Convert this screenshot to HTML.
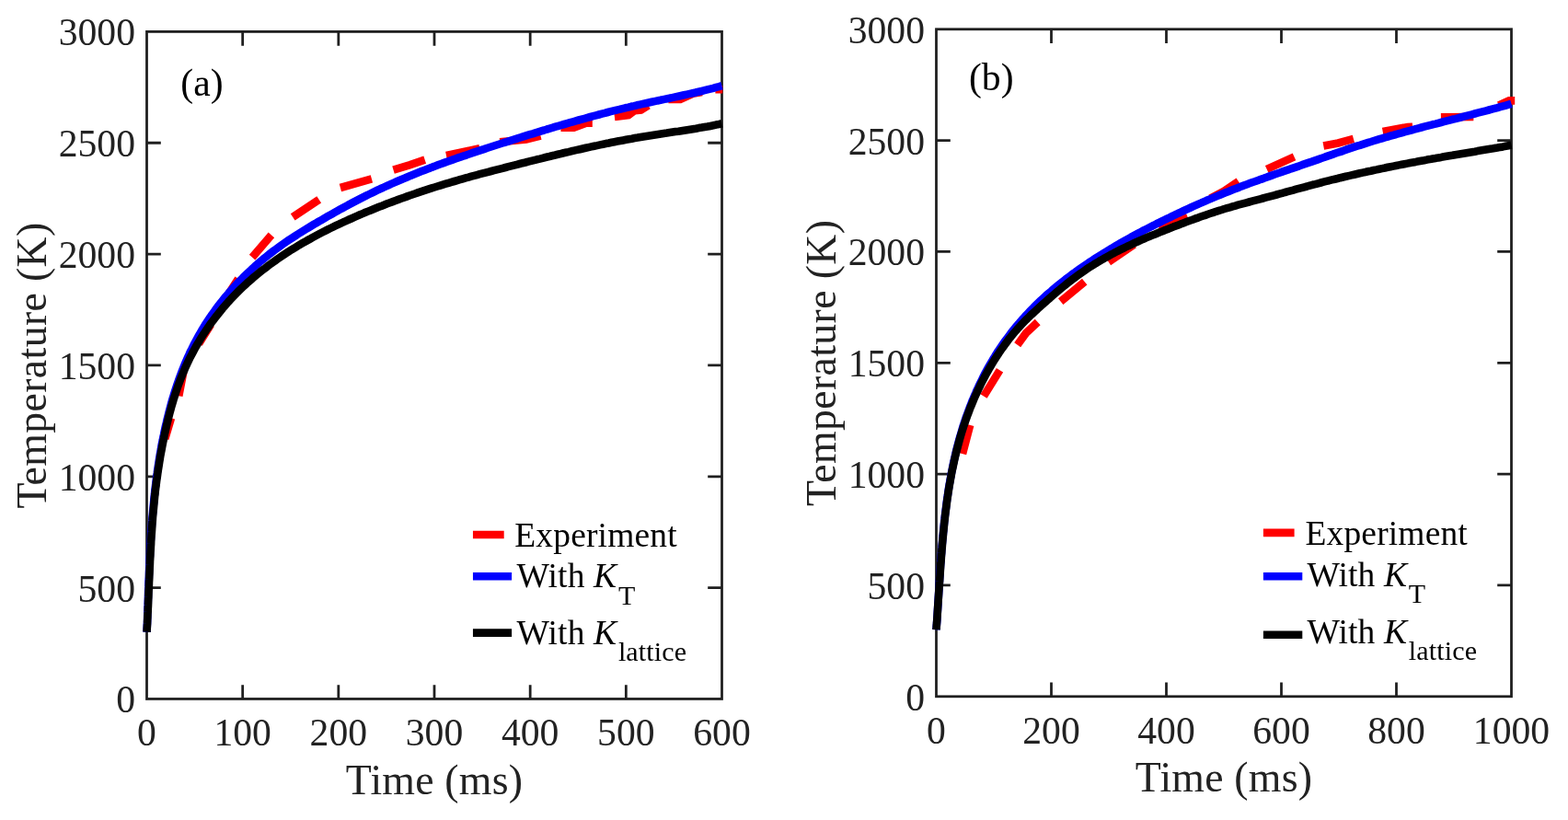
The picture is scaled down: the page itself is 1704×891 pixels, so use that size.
<!DOCTYPE html>
<html lang="en">
<head>
<meta charset="utf-8">
<title>Temperature vs time</title>
<style>
html,body{margin:0;padding:0;background:#fff;}
body{width:1704px;height:891px;overflow:hidden;}
svg{display:block;font-family:'Liberation Serif', serif;}
</style>
</head>
<body>
<svg width="1704" height="891" viewBox="0 0 1704 891">
<rect width="1704" height="891" fill="#ffffff"/>
<g id="panel-a">
<rect x="159.5" y="34.4" width="625.0" height="725.0500000000001" fill="none" stroke="#1f1f1f" stroke-width="2.78"/>
<path d="M263.67,759.45 v-15.3 M263.67,34.4 v15.3 M367.83,759.45 v-15.3 M367.83,34.4 v15.3 M472.00,759.45 v-15.3 M472.00,34.4 v15.3 M576.17,759.45 v-15.3 M576.17,34.4 v15.3 M680.33,759.45 v-15.3 M680.33,34.4 v15.3 M159.5,638.61 h15.3 M784.5,638.61 h-15.3 M159.5,517.77 h15.3 M784.5,517.77 h-15.3 M159.5,396.93 h15.3 M784.5,396.93 h-15.3 M159.5,276.08 h15.3 M784.5,276.08 h-15.3 M159.5,155.24 h15.3 M784.5,155.24 h-15.3" fill="none" stroke="#1f1f1f" stroke-width="2.78"/>
<g font-size="41.67" fill="#222222">
<text x="159.50" y="810.45" text-anchor="middle">0</text>
<text x="263.67" y="810.45" text-anchor="middle">100</text>
<text x="367.83" y="810.45" text-anchor="middle">200</text>
<text x="472.00" y="810.45" text-anchor="middle">300</text>
<text x="576.17" y="810.45" text-anchor="middle">400</text>
<text x="680.33" y="810.45" text-anchor="middle">500</text>
<text x="784.50" y="810.45" text-anchor="middle">600</text>
<text x="147.00" y="774.45" text-anchor="end">0</text>
<text x="147.00" y="653.61" text-anchor="end">500</text>
<text x="147.00" y="532.77" text-anchor="end">1000</text>
<text x="147.00" y="411.93" text-anchor="end">1500</text>
<text x="147.00" y="291.08" text-anchor="end">2000</text>
<text x="147.00" y="170.24" text-anchor="end">2500</text>
<text x="147.00" y="49.40" text-anchor="end">3000</text>
</g>
<text x="472.00" y="862.95" font-size="45.83" letter-spacing="0.2" text-anchor="middle" fill="#222222">Time (ms)</text>
<text transform="translate(50.00,396.93) rotate(-90)" font-size="45.83" letter-spacing="0.35" text-anchor="middle" fill="#222222">Temperature (K)</text>
<text x="196.3" y="103.8" font-size="41.67" fill="#000">(a)</text>
<path d="M179.3,476.7 L186.0,454.2 M194.3,430.2 L199.4,403.9 M216.1,373.6 L229.2,352.4 M240.8,331.4 L259.0,302.7 M274.1,279.6 L294.9,255.4 M318.2,235.9 L346.7,216.9 M369.9,204.0 L403.9,194.4 M427.5,184.6 L444.9,179.3 L461.7,173.7 M485.0,169.0 L521.3,161.3 M543.2,154.3 L571.8,151.5 L587.5,147.6 M609.5,138.6 L623.6,138.6 L637.0,133.6 L643.8,133.6 M667.9,127.0 L683.0,125.1 L689.8,120.1 L696.5,119.5 L704.5,114.5 M726.4,108.0 L739.3,108.0 L753.9,101.4 L762.9,99.9 M777.4,97.3 L785.3,97.3" fill="none" stroke="#ff0000" stroke-width="8.6"/>
<path d="M159.5,686.8 L159.7,683.6 L159.8,680.3 L160.0,677.0 L160.1,673.8 L160.2,670.5 L160.3,667.2 L160.4,664.0 L160.5,660.7 L160.7,657.4 L160.8,654.2 L160.9,650.9 L161.0,647.6 L161.1,644.4 L161.2,641.1 L161.4,637.9 L161.5,634.6 L161.6,631.3 L161.8,628.1 L161.9,624.8 L162.0,621.5 L162.2,618.3 L162.3,615.0 L162.5,611.7 L162.6,608.5 L162.8,605.2 L163.0,602.0 L163.1,598.7 L163.3,595.4 L163.5,592.2 L163.7,588.9 L163.9,585.7 L164.1,582.4 L164.3,579.1 L164.5,575.9 L164.8,572.6 L165.0,569.4 L165.3,566.1 L165.5,562.8 L165.8,559.6 L166.1,556.3 L166.4,553.1 L166.7,549.8 L167.0,546.6 L167.3,543.3 L167.6,540.1 L168.0,536.8 L168.3,533.6 L168.7,530.3 L169.1,527.1 L169.5,523.9 L169.9,520.6 L170.3,517.4 L170.8,514.1 L171.2,510.9 L171.7,507.7 L172.2,504.4 L172.7,501.2 L173.2,498.0 L173.7,494.8 L174.3,491.5 L174.9,488.3 L175.4,485.1 L176.0,481.9 L176.7,478.7 L177.3,475.5 L178.0,472.3 L178.6,469.1 L179.3,465.9 L180.0,462.7 L180.8,459.5 L181.5,456.4 L182.3,453.2 L183.1,450.0 L183.9,446.8 L184.7,443.7 L185.6,440.5 L186.4,437.4 L187.3,434.3 L188.3,431.1 L189.2,428.0 L190.2,424.9 L191.2,421.8 L192.2,418.7 L193.3,415.6 L194.4,412.5 L195.5,409.4 L196.6,406.4 L197.8,403.3 L199.0,400.3 L200.2,397.3 L201.5,394.2 L202.8,391.2 L204.1,388.3 L205.5,385.3 L206.8,382.3 L208.3,379.4 L209.7,376.5 L211.2,373.5 L212.7,370.7 L214.3,367.8 L215.9,364.9 L217.5,362.1 L219.1,359.3 L220.8,356.5 L222.5,353.7 L224.3,350.9 L226.1,348.2 L227.9,345.5 L229.7,342.8 L231.6,340.1 L233.5,337.5 L235.4,334.8 L237.4,332.2 L239.4,329.6 L241.4,327.1 L243.5,324.5 L245.5,322.0 L247.7,319.5 L249.8,317.0 L251.9,314.6 L254.1,312.1 L256.3,309.7 L258.6,307.3 L260.8,305.0 L263.1,302.7 L265.4,300.3 L267.7,298.1 L270.1,295.8 L272.5,293.6 L274.9,291.3 L277.3,289.1 L279.8,287.0 L282.2,284.8 L284.7,282.7 L287.2,280.6 L289.8,278.6 L292.3,276.5 L294.9,274.5 L297.5,272.5 L300.1,270.6 L302.7,268.7 L305.4,266.8 L308.0,264.9 L310.7,263.0 L313.4,261.2 L316.2,259.4 L318.9,257.6 L321.6,255.8 L324.4,254.0 L327.1,252.3 L329.9,250.6 L332.7,248.9 L335.5,247.2 L338.3,245.5 L341.1,243.8 L343.9,242.2 L346.7,240.5 L349.6,238.9 L352.4,237.3 L355.2,235.6 L358.1,234.0 L360.9,232.4 L363.8,230.8 L366.6,229.2 L369.5,227.6 L372.3,226.1 L375.2,224.5 L378.1,222.9 L381.0,221.4 L383.8,219.9 L386.7,218.4 L389.6,216.9 L392.5,215.4 L395.5,213.9 L398.4,212.4 L401.3,211.0 L404.2,209.6 L407.2,208.1 L410.1,206.7 L413.1,205.3 L416.1,204.0 L419.0,202.6 L422.0,201.3 L425.0,199.9 L428.0,198.6 L431.0,197.3 L434.0,196.0 L437.0,194.7 L440.0,193.5 L443.0,192.2 L446.0,190.9 L449.0,189.7 L452.1,188.5 L455.1,187.3 L458.1,186.1 L461.2,184.9 L464.2,183.7 L467.3,182.6 L470.3,181.4 L473.4,180.3 L476.5,179.1 L479.5,178.0 L482.6,176.9 L485.7,175.8 L488.7,174.7 L491.8,173.6 L494.9,172.5 L498.0,171.4 L501.1,170.4 L504.2,169.3 L507.3,168.3 L510.4,167.2 L513.4,166.2 L516.5,165.1 L519.6,164.1 L522.7,163.1 L525.9,162.1 L529.0,161.0 L532.1,160.0 L535.2,159.0 L538.3,158.0 L541.4,157.0 L544.5,156.0 L547.6,155.0 L550.7,154.1 L553.8,153.1 L557.0,152.1 L560.1,151.1 L563.2,150.1 L566.3,149.2 L569.4,148.2 L572.5,147.2 L575.7,146.2 L578.8,145.3 L581.9,144.3 L585.0,143.4 L588.2,142.4 L591.3,141.5 L594.4,140.5 L597.5,139.6 L600.7,138.7 L603.8,137.7 L606.9,136.8 L610.1,135.9 L613.2,135.0 L616.3,134.1 L619.5,133.2 L622.6,132.3 L625.8,131.4 L628.9,130.5 L632.1,129.6 L635.2,128.8 L638.4,127.9 L641.5,127.0 L644.7,126.2 L647.8,125.4 L651.0,124.5 L654.1,123.7 L657.3,122.9 L660.5,122.0 L663.6,121.2 L666.8,120.4 L670.0,119.6 L673.1,118.9 L676.3,118.1 L679.5,117.3 L682.7,116.6 L685.8,115.8 L689.0,115.1 L692.2,114.3 L695.4,113.6 L698.6,112.9 L701.8,112.2 L705.0,111.5 L708.1,110.8 L711.3,110.1 L714.5,109.4 L717.7,108.8 L720.9,108.1 L724.1,107.4 L727.3,106.8 L730.5,106.1 L733.7,105.4 L736.9,104.7 L740.1,104.0 L743.3,103.3 L746.5,102.6 L749.7,101.9 L752.9,101.2 L756.0,100.5 L759.2,99.7 L762.4,99.0 L765.6,98.2 L768.7,97.4 L771.9,96.6 L775.1,95.8 L778.2,94.9 L781.4,94.1 L784.5,93.2" fill="none" stroke="#0000ff" stroke-width="8.6" stroke-linejoin="round"/>
<path d="M159.5,686.8 L159.7,683.6 L159.9,680.4 L160.1,677.2 L160.2,674.0 L160.4,670.8 L160.5,667.6 L160.7,664.4 L160.8,661.2 L161.0,658.0 L161.1,654.8 L161.2,651.6 L161.4,648.4 L161.5,645.2 L161.6,642.0 L161.8,638.8 L161.9,635.6 L162.0,632.4 L162.2,629.2 L162.3,626.0 L162.5,622.8 L162.6,619.6 L162.7,616.4 L162.9,613.2 L163.0,610.0 L163.2,606.8 L163.4,603.6 L163.5,600.5 L163.7,597.3 L163.9,594.1 L164.1,590.9 L164.2,587.7 L164.4,584.5 L164.6,581.3 L164.9,578.1 L165.1,574.9 L165.3,571.7 L165.5,568.5 L165.8,565.3 L166.0,562.1 L166.3,558.9 L166.6,555.7 L166.9,552.5 L167.2,549.4 L167.5,546.2 L167.8,543.0 L168.1,539.8 L168.5,536.6 L168.8,533.4 L169.2,530.3 L169.6,527.1 L170.0,523.9 L170.4,520.7 L170.9,517.6 L171.3,514.4 L171.8,511.2 L172.3,508.1 L172.8,504.9 L173.3,501.7 L173.8,498.6 L174.3,495.4 L174.9,492.3 L175.5,489.1 L176.1,486.0 L176.7,482.8 L177.3,479.7 L178.0,476.6 L178.6,473.4 L179.3,470.3 L180.0,467.2 L180.7,464.1 L181.4,460.9 L182.2,457.8 L182.9,454.7 L183.7,451.6 L184.5,448.5 L185.4,445.4 L186.2,442.3 L187.1,439.3 L188.0,436.2 L188.9,433.1 L189.9,430.1 L190.9,427.0 L191.9,424.0 L192.9,421.0 L194.0,417.9 L195.1,414.9 L196.2,411.9 L197.4,409.0 L198.6,406.0 L199.9,403.1 L201.1,400.1 L202.5,397.2 L203.8,394.3 L205.2,391.4 L206.6,388.5 L208.1,385.7 L209.6,382.9 L211.1,380.0 L212.6,377.2 L214.2,374.5 L215.9,371.7 L217.5,369.0 L219.2,366.2 L220.9,363.5 L222.7,360.9 L224.4,358.2 L226.3,355.6 L228.1,352.9 L230.0,350.3 L231.9,347.8 L233.8,345.2 L235.8,342.7 L237.8,340.2 L239.8,337.7 L241.8,335.2 L243.9,332.8 L246.0,330.4 L248.1,328.0 L250.3,325.6 L252.5,323.3 L254.7,321.0 L256.9,318.7 L259.2,316.4 L261.5,314.2 L263.8,312.0 L266.1,309.8 L268.5,307.6 L270.9,305.5 L273.3,303.4 L275.7,301.3 L278.2,299.2 L280.6,297.2 L283.1,295.2 L285.7,293.2 L288.2,291.3 L290.7,289.3 L293.3,287.4 L295.9,285.5 L298.5,283.7 L301.1,281.8 L303.7,280.0 L306.4,278.2 L309.1,276.4 L311.7,274.7 L314.4,272.9 L317.1,271.2 L319.9,269.6 L322.6,267.9 L325.3,266.2 L328.1,264.6 L330.9,263.0 L333.7,261.4 L336.5,259.9 L339.3,258.3 L342.1,256.8 L344.9,255.3 L347.7,253.8 L350.6,252.3 L353.4,250.9 L356.3,249.4 L359.1,248.0 L362.0,246.6 L364.9,245.2 L367.8,243.8 L370.7,242.5 L373.6,241.1 L376.5,239.8 L379.4,238.5 L382.4,237.2 L385.3,235.9 L388.2,234.6 L391.2,233.3 L394.1,232.1 L397.1,230.8 L400.0,229.6 L403.0,228.4 L405.9,227.2 L408.9,226.0 L411.9,224.8 L414.9,223.7 L417.9,222.5 L420.8,221.3 L423.8,220.2 L426.8,219.1 L429.8,218.0 L432.8,216.9 L435.8,215.8 L438.9,214.7 L441.9,213.6 L444.9,212.5 L447.9,211.5 L450.9,210.5 L454.0,209.4 L457.0,208.4 L460.0,207.4 L463.1,206.4 L466.1,205.4 L469.2,204.4 L472.2,203.5 L475.3,202.5 L478.3,201.6 L481.4,200.6 L484.5,199.7 L487.5,198.8 L490.6,197.9 L493.7,197.0 L496.8,196.1 L499.8,195.2 L502.9,194.3 L506.0,193.4 L509.1,192.6 L512.2,191.7 L515.3,190.9 L518.3,190.1 L521.4,189.2 L524.5,188.4 L527.6,187.6 L530.7,186.8 L533.8,186.0 L536.9,185.2 L540.0,184.4 L543.1,183.6 L546.2,182.8 L549.3,182.0 L552.4,181.2 L555.5,180.4 L558.6,179.6 L561.7,178.8 L564.8,178.0 L567.9,177.2 L571.0,176.5 L574.1,175.7 L577.2,174.9 L580.4,174.1 L583.5,173.3 L586.6,172.6 L589.7,171.8 L592.8,171.0 L595.9,170.3 L599.0,169.5 L602.1,168.8 L605.2,168.0 L608.3,167.3 L611.5,166.5 L614.6,165.8 L617.7,165.1 L620.8,164.3 L623.9,163.6 L627.0,162.9 L630.2,162.2 L633.3,161.5 L636.4,160.8 L639.5,160.1 L642.7,159.4 L645.8,158.7 L648.9,158.1 L652.1,157.4 L655.2,156.8 L658.3,156.1 L661.5,155.5 L664.6,154.8 L667.7,154.2 L670.9,153.6 L674.0,153.0 L677.2,152.4 L680.3,151.8 L683.5,151.2 L686.6,150.7 L689.8,150.1 L692.9,149.6 L696.1,149.0 L699.2,148.5 L702.4,148.0 L705.6,147.5 L708.7,147.0 L711.9,146.5 L715.1,146.0 L718.2,145.5 L721.4,145.0 L724.6,144.6 L727.7,144.1 L730.9,143.6 L734.1,143.1 L737.2,142.7 L740.4,142.2 L743.5,141.7 L746.7,141.2 L749.9,140.7 L753.0,140.2 L756.2,139.7 L759.3,139.1 L762.5,138.6 L765.7,138.0 L768.8,137.5 L772.0,136.9 L775.1,136.3 L778.2,135.6 L781.4,135.0 L784.5,134.3" fill="none" stroke="#000000" stroke-width="8.6" stroke-linejoin="round"/>
<path d="M513.96,580.95 H547.7" stroke="#ff0000" stroke-width="8.6"/>
<path d="M513.96,626.2 H556.1" stroke="#0000ff" stroke-width="8.6"/>
<path d="M513.96,687.6 H556.1" stroke="#000000" stroke-width="8.6"/>
<g font-size="37.5" fill="#000" letter-spacing="0.15">
<text x="559.3" y="593.8">Experiment</text>
<text x="561.5" y="638.3">With <tspan font-style="italic">K</tspan><tspan font-size="30" dx="1.6" dy="18.2">T</tspan></text>
<text x="561.5" y="699.8">With <tspan font-style="italic">K</tspan><tspan font-size="30" dx="1.6" dy="18.2">lattice</tspan></text>
</g>
</g>
<g id="panel-b">
<rect x="1017.5" y="31.75" width="625.0" height="725.05" fill="none" stroke="#1f1f1f" stroke-width="2.78"/>
<path d="M1142.50,756.8 v-15.3 M1142.50,31.75 v15.3 M1267.50,756.8 v-15.3 M1267.50,31.75 v15.3 M1392.50,756.8 v-15.3 M1392.50,31.75 v15.3 M1517.50,756.8 v-15.3 M1517.50,31.75 v15.3 M1017.5,635.96 h15.3 M1642.5,635.96 h-15.3 M1017.5,515.12 h15.3 M1642.5,515.12 h-15.3 M1017.5,394.27 h15.3 M1642.5,394.27 h-15.3 M1017.5,273.43 h15.3 M1642.5,273.43 h-15.3 M1017.5,152.59 h15.3 M1642.5,152.59 h-15.3" fill="none" stroke="#1f1f1f" stroke-width="2.78"/>
<g font-size="41.67" fill="#222222">
<text x="1017.50" y="807.80" text-anchor="middle">0</text>
<text x="1142.50" y="807.80" text-anchor="middle">200</text>
<text x="1267.50" y="807.80" text-anchor="middle">400</text>
<text x="1392.50" y="807.80" text-anchor="middle">600</text>
<text x="1517.50" y="807.80" text-anchor="middle">800</text>
<text x="1642.50" y="807.80" text-anchor="middle">1000</text>
<text x="1005.00" y="771.80" text-anchor="end">0</text>
<text x="1005.00" y="650.96" text-anchor="end">500</text>
<text x="1005.00" y="530.12" text-anchor="end">1000</text>
<text x="1005.00" y="409.27" text-anchor="end">1500</text>
<text x="1005.00" y="288.43" text-anchor="end">2000</text>
<text x="1005.00" y="167.59" text-anchor="end">2500</text>
<text x="1005.00" y="46.75" text-anchor="end">3000</text>
</g>
<text x="1330.00" y="860.30" font-size="45.83" letter-spacing="0.2" text-anchor="middle" fill="#222222">Time (ms)</text>
<text transform="translate(908.00,394.27) rotate(-90)" font-size="45.83" letter-spacing="0.35" text-anchor="middle" fill="#222222">Temperature (K)</text>
<text x="1053" y="97.8" font-size="41.67" fill="#000">(b)</text>
<path d="M1046.0,493.1 L1054.2,461.8 M1069.0,430.5 L1086.5,402.3 M1105.7,374.7 L1115.0,361.9 L1127.7,350.0 M1152.7,327.6 L1178.7,306.1 M1204.7,284.6 L1232.5,265.7 M1259.3,247.5 L1290.1,234.5 M1315.4,215.6 L1330.0,207.8 L1345.9,197.1 M1376.7,183.9 L1406.5,170.3 M1438.3,158.5 L1454.2,155.5 L1470.9,150.9 M1502.7,143.1 L1530.0,138.0 L1535.0,137.8 M1565.9,127.3 L1601.3,127.0 M1628.8,114.5 L1640.0,109.4 L1646.2,109.4" fill="none" stroke="#ff0000" stroke-width="8.6"/>
<path d="M1017.5,684.3 L1017.7,681.1 L1018.0,677.9 L1018.2,674.8 L1018.4,671.6 L1018.6,668.5 L1018.8,665.3 L1019.0,662.2 L1019.2,659.0 L1019.4,655.9 L1019.6,652.7 L1019.8,649.6 L1020.0,646.4 L1020.2,643.2 L1020.4,640.1 L1020.6,636.9 L1020.8,633.8 L1021.0,630.6 L1021.2,627.5 L1021.4,624.3 L1021.6,621.2 L1021.8,618.0 L1022.0,614.8 L1022.3,611.7 L1022.5,608.5 L1022.7,605.4 L1023.0,602.2 L1023.2,599.1 L1023.5,595.9 L1023.7,592.8 L1024.0,589.6 L1024.3,586.5 L1024.6,583.3 L1024.9,580.2 L1025.2,577.0 L1025.5,573.9 L1025.8,570.8 L1026.1,567.6 L1026.5,564.5 L1026.8,561.3 L1027.2,558.2 L1027.6,555.0 L1028.0,551.9 L1028.4,548.8 L1028.8,545.6 L1029.2,542.5 L1029.7,539.4 L1030.2,536.3 L1030.6,533.1 L1031.1,530.0 L1031.6,526.9 L1032.2,523.8 L1032.7,520.7 L1033.3,517.5 L1033.9,514.4 L1034.5,511.3 L1035.1,508.2 L1035.7,505.1 L1036.4,502.0 L1037.1,499.0 L1037.8,495.9 L1038.5,492.8 L1039.2,489.7 L1040.0,486.7 L1040.8,483.6 L1041.6,480.5 L1042.4,477.5 L1043.3,474.4 L1044.2,471.4 L1045.1,468.4 L1046.0,465.3 L1046.9,462.3 L1047.9,459.3 L1048.9,456.3 L1049.9,453.3 L1051.0,450.4 L1052.1,447.4 L1053.2,444.4 L1054.3,441.5 L1055.5,438.5 L1056.6,435.6 L1057.9,432.7 L1059.1,429.8 L1060.4,426.9 L1061.6,424.0 L1063.0,421.1 L1064.3,418.2 L1065.7,415.4 L1067.1,412.6 L1068.5,409.7 L1069.9,406.9 L1071.4,404.1 L1072.9,401.3 L1074.4,398.6 L1076.0,395.8 L1077.6,393.1 L1079.2,390.4 L1080.9,387.7 L1082.5,385.0 L1084.2,382.3 L1086.0,379.7 L1087.7,377.1 L1089.5,374.5 L1091.3,371.9 L1093.2,369.3 L1095.1,366.8 L1097.0,364.2 L1098.9,361.7 L1100.8,359.2 L1102.8,356.8 L1104.8,354.3 L1106.9,351.9 L1108.9,349.5 L1111.0,347.1 L1113.1,344.8 L1115.2,342.4 L1117.4,340.1 L1119.6,337.8 L1121.8,335.6 L1124.0,333.3 L1126.2,331.1 L1128.5,328.9 L1130.8,326.7 L1133.1,324.6 L1135.5,322.4 L1137.8,320.3 L1140.2,318.2 L1142.6,316.2 L1145.0,314.1 L1147.4,312.1 L1149.8,310.1 L1152.3,308.1 L1154.8,306.1 L1157.3,304.2 L1159.8,302.2 L1162.3,300.3 L1164.8,298.4 L1167.4,296.6 L1169.9,294.7 L1172.5,292.9 L1175.1,291.1 L1177.7,289.3 L1180.3,287.5 L1182.9,285.7 L1185.6,284.0 L1188.2,282.2 L1190.9,280.5 L1193.5,278.8 L1196.2,277.1 L1198.9,275.5 L1201.6,273.8 L1204.3,272.1 L1207.0,270.5 L1209.7,268.9 L1212.4,267.3 L1215.1,265.7 L1217.9,264.1 L1220.6,262.6 L1223.4,261.0 L1226.1,259.5 L1228.9,257.9 L1231.7,256.4 L1234.5,254.9 L1237.3,253.4 L1240.0,251.9 L1242.8,250.4 L1245.6,249.0 L1248.5,247.5 L1251.3,246.1 L1254.1,244.7 L1256.9,243.2 L1259.7,241.8 L1262.6,240.4 L1265.4,239.0 L1268.2,237.6 L1271.1,236.3 L1273.9,234.9 L1276.8,233.5 L1279.7,232.2 L1282.5,230.8 L1285.4,229.5 L1288.2,228.2 L1291.1,226.8 L1294.0,225.5 L1296.9,224.2 L1299.8,222.9 L1302.6,221.6 L1305.5,220.4 L1308.4,219.1 L1311.3,217.8 L1314.2,216.6 L1317.1,215.4 L1320.1,214.1 L1323.0,212.9 L1325.9,211.7 L1328.8,210.5 L1331.8,209.3 L1334.7,208.2 L1337.6,207.0 L1340.6,205.8 L1343.5,204.7 L1346.5,203.6 L1349.4,202.4 L1352.4,201.3 L1355.4,200.2 L1358.3,199.1 L1361.3,198.0 L1364.3,197.0 L1367.2,195.9 L1370.2,194.8 L1373.2,193.8 L1376.2,192.7 L1379.2,191.6 L1382.1,190.6 L1385.1,189.5 L1388.1,188.5 L1391.1,187.5 L1394.1,186.4 L1397.1,185.4 L1400.1,184.4 L1403.0,183.3 L1406.0,182.3 L1409.0,181.3 L1412.0,180.3 L1415.0,179.2 L1418.0,178.2 L1421.0,177.2 L1424.0,176.2 L1427.0,175.1 L1430.0,174.1 L1432.9,173.1 L1435.9,172.0 L1438.9,171.0 L1441.9,169.9 L1444.9,168.9 L1447.9,167.9 L1450.9,166.8 L1453.8,165.8 L1456.8,164.8 L1459.8,163.8 L1462.8,162.7 L1465.8,161.7 L1468.8,160.7 L1471.8,159.7 L1474.8,158.7 L1477.8,157.8 L1480.8,156.8 L1483.9,155.8 L1486.9,154.9 L1489.9,154.0 L1492.9,153.0 L1495.9,152.1 L1499.0,151.2 L1502.0,150.3 L1505.0,149.4 L1508.1,148.6 L1511.1,147.7 L1514.2,146.8 L1517.2,146.0 L1520.2,145.1 L1523.3,144.3 L1526.3,143.4 L1529.4,142.6 L1532.4,141.8 L1535.5,141.0 L1538.5,140.1 L1541.6,139.3 L1544.7,138.5 L1547.7,137.7 L1550.8,136.9 L1553.8,136.1 L1556.9,135.3 L1560.0,134.6 L1563.0,133.8 L1566.1,133.0 L1569.1,132.2 L1572.2,131.4 L1575.3,130.6 L1578.3,129.8 L1581.4,129.1 L1584.5,128.3 L1587.5,127.5 L1590.6,126.7 L1593.6,125.9 L1596.7,125.1 L1599.8,124.3 L1602.8,123.5 L1605.9,122.7 L1608.9,121.9 L1612.0,121.1 L1615.1,120.3 L1618.1,119.5 L1621.2,118.7 L1624.2,117.9 L1627.3,117.1 L1630.3,116.2 L1633.4,115.4 L1636.4,114.6 L1639.5,113.7 L1642.5,112.8" fill="none" stroke="#0000ff" stroke-width="8.6" stroke-linejoin="round"/>
<path d="M1017.5,684.3 L1017.7,681.2 L1017.9,678.1 L1018.2,675.0 L1018.4,671.9 L1018.6,668.8 L1018.8,665.7 L1019.0,662.6 L1019.2,659.5 L1019.4,656.4 L1019.6,653.3 L1019.8,650.2 L1020.0,647.1 L1020.2,644.0 L1020.4,640.9 L1020.6,637.8 L1020.8,634.7 L1021.1,631.6 L1021.3,628.5 L1021.5,625.4 L1021.7,622.3 L1021.9,619.2 L1022.1,616.1 L1022.3,613.0 L1022.6,609.9 L1022.8,606.8 L1023.0,603.7 L1023.3,600.6 L1023.5,597.5 L1023.8,594.4 L1024.0,591.3 L1024.3,588.2 L1024.6,585.1 L1024.9,582.0 L1025.1,579.0 L1025.5,575.9 L1025.8,572.8 L1026.1,569.7 L1026.4,566.6 L1026.8,563.5 L1027.1,560.4 L1027.5,557.3 L1027.9,554.3 L1028.3,551.2 L1028.7,548.1 L1029.1,545.0 L1029.5,541.9 L1030.0,538.9 L1030.4,535.8 L1030.9,532.7 L1031.4,529.7 L1031.9,526.6 L1032.5,523.5 L1033.0,520.5 L1033.6,517.4 L1034.1,514.4 L1034.7,511.3 L1035.4,508.3 L1036.0,505.3 L1036.7,502.2 L1037.3,499.2 L1038.0,496.2 L1038.8,493.1 L1039.5,490.1 L1040.3,487.1 L1041.1,484.1 L1041.9,481.1 L1042.7,478.1 L1043.6,475.1 L1044.4,472.2 L1045.3,469.2 L1046.3,466.2 L1047.2,463.3 L1048.2,460.3 L1049.2,457.4 L1050.2,454.5 L1051.3,451.5 L1052.4,448.6 L1053.5,445.7 L1054.6,442.8 L1055.8,440.0 L1057.0,437.1 L1058.2,434.2 L1059.4,431.4 L1060.7,428.5 L1062.0,425.7 L1063.3,422.9 L1064.7,420.1 L1066.0,417.3 L1067.4,414.6 L1068.9,411.8 L1070.3,409.1 L1071.8,406.3 L1073.3,403.6 L1074.8,400.9 L1076.4,398.2 L1078.0,395.6 L1079.6,392.9 L1081.2,390.3 L1082.9,387.7 L1084.6,385.1 L1086.3,382.5 L1088.1,379.9 L1089.9,377.4 L1091.7,374.9 L1093.6,372.4 L1095.4,369.9 L1097.3,367.4 L1099.3,365.0 L1101.3,362.6 L1103.3,360.3 L1105.3,357.9 L1107.4,355.6 L1109.5,353.3 L1111.6,351.1 L1113.8,348.8 L1116.0,346.6 L1118.2,344.5 L1120.4,342.3 L1122.7,340.2 L1125.0,338.1 L1127.3,336.0 L1129.5,333.9 L1131.9,331.8 L1134.2,329.7 L1136.5,327.7 L1138.8,325.6 L1141.2,323.6 L1143.5,321.5 L1145.9,319.5 L1148.2,317.5 L1150.6,315.5 L1153.0,313.5 L1155.4,311.5 L1157.8,309.6 L1160.2,307.7 L1162.7,305.7 L1165.1,303.8 L1167.6,302.0 L1170.1,300.1 L1172.6,298.3 L1175.1,296.5 L1177.7,294.7 L1180.2,292.9 L1182.8,291.2 L1185.4,289.5 L1188.1,287.9 L1190.7,286.2 L1193.4,284.6 L1196.0,283.0 L1198.7,281.5 L1201.4,279.9 L1204.1,278.4 L1206.8,276.9 L1209.6,275.5 L1212.3,274.0 L1215.1,272.6 L1217.9,271.2 L1220.7,269.8 L1223.4,268.5 L1226.3,267.1 L1229.1,265.8 L1231.9,264.5 L1234.7,263.2 L1237.5,262.0 L1240.4,260.7 L1243.2,259.5 L1246.1,258.2 L1248.9,257.0 L1251.8,255.8 L1254.7,254.7 L1257.6,253.5 L1260.4,252.3 L1263.3,251.2 L1266.2,250.0 L1269.1,248.9 L1272.0,247.8 L1274.9,246.6 L1277.8,245.5 L1280.7,244.4 L1283.6,243.3 L1286.5,242.2 L1289.4,241.1 L1292.3,240.0 L1295.2,239.0 L1298.1,237.9 L1301.1,236.9 L1304.0,235.8 L1306.9,234.8 L1309.9,233.8 L1312.8,232.8 L1315.7,231.8 L1318.7,230.8 L1321.6,229.8 L1324.6,228.9 L1327.6,228.0 L1330.5,227.0 L1333.5,226.1 L1336.5,225.3 L1339.5,224.4 L1342.5,223.6 L1345.4,222.7 L1348.4,221.9 L1351.4,221.1 L1354.4,220.3 L1357.4,219.5 L1360.4,218.7 L1363.4,217.9 L1366.4,217.1 L1369.4,216.3 L1372.4,215.5 L1375.4,214.7 L1378.4,213.9 L1381.4,213.1 L1384.4,212.3 L1387.4,211.5 L1390.4,210.7 L1393.4,209.9 L1396.4,209.0 L1399.4,208.2 L1402.4,207.4 L1405.4,206.6 L1408.4,205.7 L1411.4,204.9 L1414.4,204.1 L1417.4,203.3 L1420.4,202.5 L1423.4,201.6 L1426.4,200.8 L1429.4,200.1 L1432.4,199.3 L1435.4,198.5 L1438.4,197.7 L1441.4,196.9 L1444.4,196.2 L1447.4,195.4 L1450.5,194.7 L1453.5,194.0 L1456.5,193.2 L1459.5,192.5 L1462.5,191.8 L1465.6,191.1 L1468.6,190.4 L1471.6,189.7 L1474.6,189.0 L1477.7,188.3 L1480.7,187.6 L1483.7,187.0 L1486.8,186.3 L1489.8,185.7 L1492.8,185.0 L1495.9,184.4 L1498.9,183.7 L1501.9,183.1 L1505.0,182.5 L1508.0,181.8 L1511.1,181.2 L1514.1,180.6 L1517.2,180.0 L1520.2,179.4 L1523.3,178.8 L1526.3,178.2 L1529.4,177.6 L1532.4,177.0 L1535.5,176.4 L1538.5,175.9 L1541.6,175.3 L1544.6,174.7 L1547.7,174.2 L1550.7,173.6 L1553.8,173.1 L1556.8,172.5 L1559.9,172.0 L1563.0,171.4 L1566.0,170.9 L1569.1,170.3 L1572.1,169.8 L1575.2,169.3 L1578.3,168.8 L1581.3,168.2 L1584.4,167.7 L1587.4,167.2 L1590.5,166.7 L1593.6,166.2 L1596.6,165.7 L1599.7,165.2 L1602.8,164.7 L1605.8,164.1 L1608.9,163.6 L1611.9,163.1 L1615.0,162.6 L1618.1,162.1 L1621.1,161.6 L1624.2,161.0 L1627.2,160.5 L1630.3,159.9 L1633.4,159.4 L1636.4,158.8 L1639.5,158.2 L1642.5,157.6" fill="none" stroke="#000000" stroke-width="8.6" stroke-linejoin="round"/>
<path d="M1372.9,578.9 H1406.6" stroke="#ff0000" stroke-width="8.6"/>
<path d="M1372.9,626.2 H1415.3" stroke="#0000ff" stroke-width="8.6"/>
<path d="M1372.9,689.7 H1415.3" stroke="#000000" stroke-width="8.6"/>
<g font-size="37.5" fill="#000" letter-spacing="0.15">
<text x="1418.5" y="592.3">Experiment</text>
<text x="1420.4" y="637.1">With <tspan font-style="italic">K</tspan><tspan font-size="30" dx="1.6" dy="18.2">T</tspan></text>
<text x="1420.4" y="698.8">With <tspan font-style="italic">K</tspan><tspan font-size="30" dx="1.6" dy="18.2">lattice</tspan></text>
</g>
</g>
</svg>
</body>
</html>
